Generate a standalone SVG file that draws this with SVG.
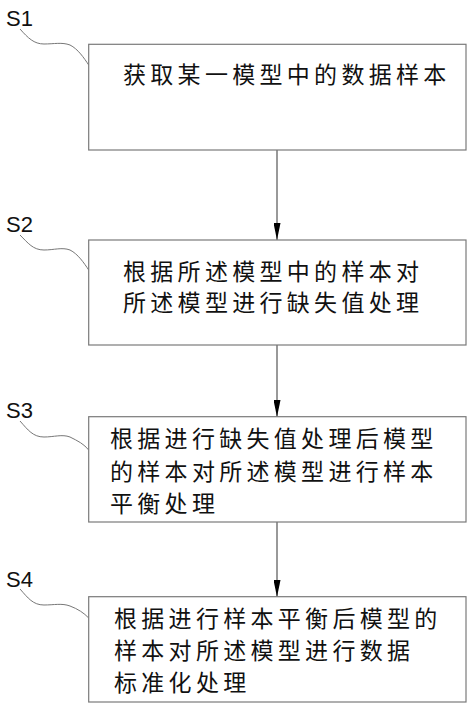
<svg xmlns="http://www.w3.org/2000/svg" width="474" height="710" viewBox="0 0 474 710">
<defs>
<style>
.box{fill:#fff;stroke:#7a7a7a;stroke-width:1.2}
.t{font-family:"Noto Sans CJK SC","Noto Sans",sans-serif;font-size:23px;fill:#111;letter-spacing:4.3px}
.lbl{font-family:"Liberation Sans",Arial,sans-serif;font-size:22px;fill:#111}
.lead{fill:none;stroke:#777;stroke-width:1}
.conn{stroke:#555;stroke-width:1.2;fill:none}
</style>
<marker id="ah" viewBox="0 0 17 7" refX="17" refY="3.5" markerWidth="17" markerHeight="7" markerUnits="userSpaceOnUse" orient="auto">
<path d="M0,0 L17,3.5 L0,7 Z" fill="#000"/>
</marker>
</defs>
<rect width="474" height="710" fill="#fff"/>
<g id="connectors">
<line class="conn" x1="277" y1="150" x2="277" y2="240" marker-end="url(#ah)"/>
<line class="conn" x1="277" y1="345" x2="277" y2="417" marker-end="url(#ah)"/>
<line class="conn" x1="277" y1="522" x2="277" y2="597" marker-end="url(#ah)"/>
</g>
<g id="S1">
<text class="lbl" x="6" y="26">S1</text>
<path class="lead" d="M20,29 C28,38 34,44 44,44 C54,44 62,42 70,45 C78,49 84,58 88.7,65"/>
<rect class="box" x="88.7" y="44.3" width="377.3" height="105.7"/>
<text class="t" x="123" y="83">获取某一模型中的数据样本</text>
</g>
<g id="S2">
<text class="lbl" x="6" y="232">S2</text>
<path class="lead" d="M20,235 C28,243 33,250 44,250 C54,250 62,247 70,250 C78,254 84,263 88.7,270"/>
<rect class="box" x="88.7" y="240" width="377.3" height="105"/>
<text class="t" x="123" y="280">根据所述模型中的样本对</text>
<text class="t" x="123" y="311">所述模型进行缺失值处理</text>
</g>
<g id="S3">
<text class="lbl" x="6" y="418">S3</text>
<path class="lead" d="M20,421 C28,430 33,437 44,437 C54,437 62,434 70,437 C78,441 84,444 88.7,450"/>
<rect class="box" x="88.7" y="416.7" width="377.3" height="105.3"/>
<text class="t" x="110" y="447">根据进行缺失值处理后模型</text>
<text class="t" x="110" y="480">的样本对所述模型进行样本</text>
<text class="t" x="110" y="512">平衡处理</text>
</g>
<g id="S4">
<text class="lbl" x="6" y="587">S4</text>
<path class="lead" d="M20,589 C28,598 33,605 44,605 C54,605 62,603 70,606 C78,609 84,613 88.7,618"/>
<rect class="box" x="88.7" y="596.7" width="377.3" height="105.3"/>
<text class="t" x="114" y="627">根据进行样本平衡后模型的</text>
<text class="t" x="114" y="659">样本对所述模型进行数据</text>
<text class="t" x="114" y="691">标准化处理</text>
</g>
</svg>
